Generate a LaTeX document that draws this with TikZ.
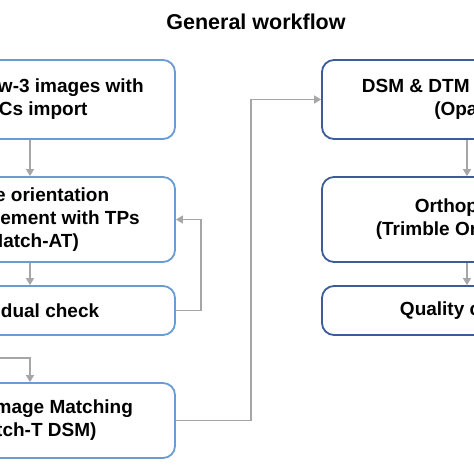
\documentclass[tikz,border=0pt]{standalone}
\usepackage{fontspec}
\setmainfont{Liberation Sans}
\usetikzlibrary{arrows.meta}
\definecolor{lblue}{HTML}{6A9BD1}
\definecolor{dblue}{HTML}{3B5B9A}
\definecolor{cgray}{HTML}{A6A6A6}
\begin{document}
\begin{tikzpicture}[x=1pt,y=-1pt,
  every node/.style={font=\bfseries\fontsize{19}{23}\selectfont, inner sep=0pt},
  lbox/.style={draw=lblue, line width=1.8pt, rounded corners=12pt, fill=white,
    minimum width=290pt, align=center},
  rbox/.style={draw=dblue, line width=1.8pt, rounded corners=12pt, fill=white,
    minimum width=290pt, align=center},
  conn/.style={draw=cgray, line width=1.2pt, -{Triangle[length=7pt,width=8pt]}}]
\clip (0,0) rectangle (474,474);
\fill[white] (0,0) rectangle (474,474);
\node[font=\bfseries\fontsize{21.5}{25}\selectfont] (title) at (256,22) {General workflow};
% left column
\node[lbox, minimum height=79pt] (imp) at (30,99.5) {WorldView-3 images with\\RPCs import};
\node[lbox, minimum height=85pt] (ori) at (30,219.5) {Image orientation\\and refinement with TPs\\(Match-AT)};
\node[lbox, minimum height=49pt] (res) at (30,310.5) {Residual check};
\node[lbox, minimum height=75pt] (dim) at (30,420.5) {Dense Image Matching\\(Match-T DSM)};
% right column
\node[rbox, minimum height=79pt] (dsm) at (467,99.5) {DSM \& DTM generation\\(Opals)};
\node[rbox, minimum height=85pt] (orth) at (467,219.5) {Orthophoto\\(Trimble OrthoVista)};
\node[rbox, minimum height=49pt] (qc) at (467,310.5) {Quality control};
\coordinate (bend) at (30,358);
% connectors
\draw[conn] (imp.south) -- (ori.north);
\draw[conn] (ori.south) -- (res.north);
\draw[conn] (res.east) -- ++(25,0) |- (ori.east);
\draw[conn] (res.west) -- ++(-10,0) |- (bend) -- (dim.north);
\draw[conn] (dim.east) -- ++(75,0) |- (dsm.west);
\draw[conn] (dsm.south) -- (orth.north);
\draw[conn] (orth.south) -- (qc.north);
\end{tikzpicture}
\end{document}
